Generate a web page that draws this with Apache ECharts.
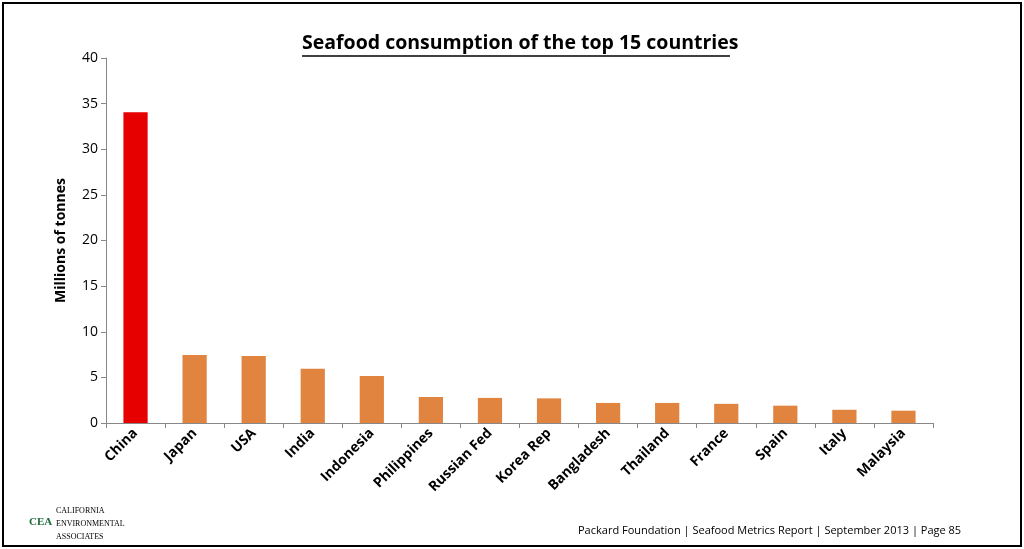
<!DOCTYPE html><html><head><meta charset="utf-8">
<script src="https://cdn.jsdelivr.net/npm/echarts@6/dist/echarts.min.js"></script>
<style>html,body{margin:0;padding:0;background:#fff}
#f{position:absolute;left:2px;top:2px;width:1016px;height:541px;border:2px solid #000;}
#c{position:absolute;left:0;top:0;width:1024px;height:549px}</style></head><body>
<div id="f"></div><div id="c"></div>
<script>
const categories=["China","Japan","USA","India","Indonesia","Philippines","Russian Fed","Korea Rep","Bangladesh","Thailand","France","Spain","Italy","Malaysia"];
const values=[34.05,7.45,7.35,5.95,5.15,2.85,2.75,2.7,2.2,2.2,2.1,1.9,1.45,1.35];
const yTicks=[0,5,10,15,20,25,30,35,40];
const ch=echarts.init(document.getElementById('c'));
ch.setOption({
 animation:false,
 graphic:[
  {type:'text',left:302,top:33,style:{text:'Seafood consumption of the top 15 countries',font:'bold 19.5px "Open Sans", sans-serif',fill:'#000'}},
  {type:'line',shape:{x1:302,y1:56,x2:730,y2:56},style:{stroke:'#000',lineWidth:1.5}},
  {type:'text',left:29,top:517,style:{text:'CEA',font:'bold 11px "Liberation Serif", serif',fill:'#1a6a3a'}},
  {type:'text',left:56,top:504,style:{text:'CALIFORNIA\nENVIRONMENTAL\nASSOCIATES',font:'8px "Liberation Serif", serif',fill:'#000',lineHeight:13}},
  {type:'text',left:578,top:525,style:{text:'Packard Foundation | Seafood Metrics Report | September 2013 | Page 85',font:'11px "Open Sans", sans-serif',fill:'#000'}}
 ],
 grid:{left:106,right:91,top:58,bottom:126},
 xAxis:{type:'category',data:categories,axisTick:{show:true,lineStyle:{color:'#888'}},axisLine:{lineStyle:{color:'#888'}},
  axisLabel:{rotate:45,color:'#000',fontSize:14,fontFamily:'Open Sans',fontWeight:'bold',interval:0,margin:8}},
 yAxis:{type:'value',min:0,max:40,interval:5,name:'Millions of tonnes',nameLocation:'middle',nameGap:38,
  nameTextStyle:{fontSize:14,fontWeight:'bold',fontFamily:'Open Sans',color:'#000'},
  axisLine:{show:true,lineStyle:{color:'#888'}},axisTick:{show:true,lineStyle:{color:'#888'}},splitLine:{show:false},
  axisLabel:{color:'#000',fontSize:14,fontFamily:'Open Sans',formatter:v=>yTicks.includes(v)?String(v):''}},
 series:[{type:'bar',data:values.map((v,i)=>({value:v,itemStyle:{color:i===0?'#e60000':'#e08440'}})),barWidth:'41%'}]
});
</script></body></html>
